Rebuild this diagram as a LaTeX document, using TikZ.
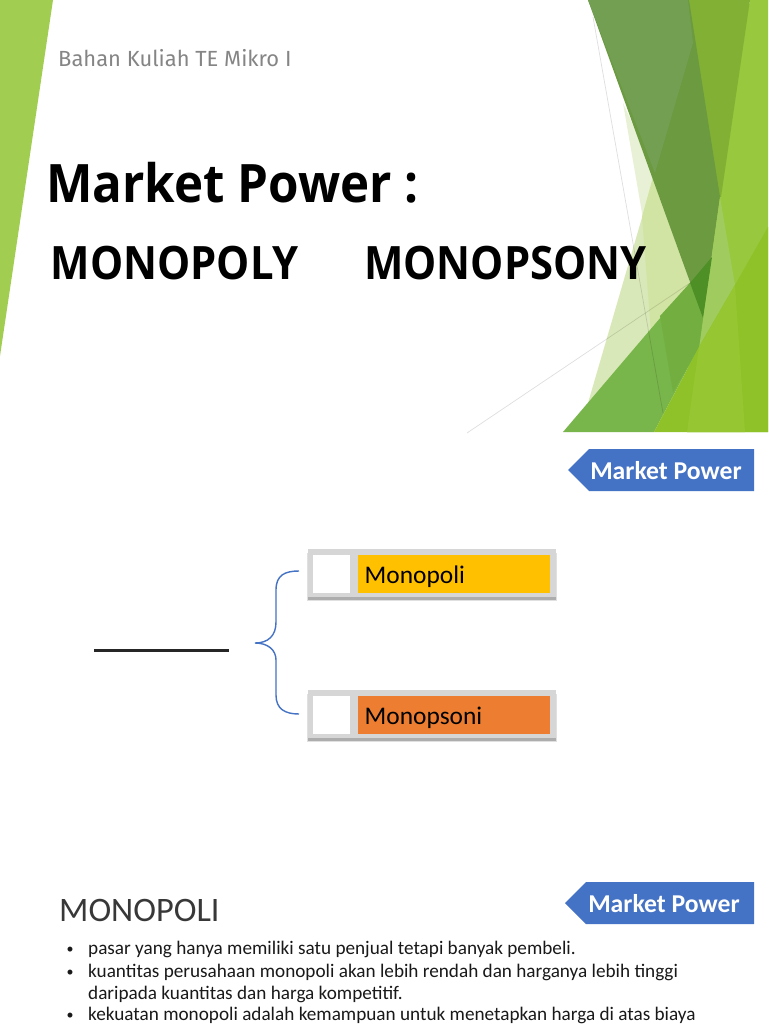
\documentclass[tikz,border=0pt]{standalone}
\usepackage{fontspec}
\setmainfont{Carlito}
\newfontfamily\titlefont[FakeStretch=0.93]{Open Sans}
\newfontfamily\headfont[FakeStretch=0.908]{Open Sans}
\newfontfamily\subfont{Fira Sans}
\definecolor{gA}{HTML}{97C83D}
\definecolor{gB}{HTML}{82B034}
\definecolor{gC}{HTML}{6B9A40}
\definecolor{gD}{HTML}{729F52}
\definecolor{gE}{HTML}{78B54A}
\definecolor{gE2}{HTML}{72AF40}
\definecolor{gF}{HTML}{8FC228}
\definecolor{gF2}{HTML}{96C632}
\definecolor{gG}{HTML}{4E8F26}
\definecolor{gH}{HTML}{A0CC5F}
\definecolor{pA}{HTML}{E8F1D5}
\definecolor{pB}{HTML}{D2E4A3}
\definecolor{pC}{HTML}{D9E8B8}
\definecolor{bluetag}{HTML}{4472C4}
\definecolor{gold}{HTML}{FFC000}
\definecolor{orng}{HTML}{ED7D31}
\tikzset{
 title/.style={font=\titlefont\bfseries\fontsize{53}{56}\selectfont,anchor=base west,inner sep=0pt},
 heading/.style={font=\headfont\bfseries\fontsize{46}{50}\selectfont,anchor=base west,inner sep=0pt},
 tag/.style={fill=bluetag,draw=none},
 tagtext/.style={font=\bfseries\fontsize{25.7}{28}\selectfont,text=white,inner sep=0pt},
 barbox/.style={fill=black!16,draw=none},
 barshadow/.style={fill=black!32,draw=none},
 barblur/.style={fill=black!12,draw=none},
 itemtext/.style={font=\fontsize{25.4}{28}\selectfont,anchor=base west,inner sep=0pt},
 bodytext/.style={font=\fontsize{19.2}{23}\selectfont,text=black!90,anchor=base west,inner sep=0pt},
 bullettext/.style={font=\fontsize{14}{16}\selectfont,text=black!90,anchor=base,inner sep=0pt},
 thingray/.style={draw=black,opacity=0.13,line width=0.7pt},
}
\begin{document}
\begin{tikzpicture}[x=1pt,y=-1pt]
\useasboundingbox (0,0) rectangle (768,1024);
\fill[white] (0,0) rectangle (768,1024);
% left wedge
\fill[gA!90!white] (0,0) -- (53,0) -- (0,356) -- cycle;
% right decoration: every layer runs on under the next one, so no seams show
\fill[pA] (623,103) -- (673,392) -- (680,300) -- (655,173) -- cycle;
\fill[pC] (655,173) -- (588,403) -- (600,412) -- (680,320) -- (690,283) -- cycle;
\fill[pB] (653,177) -- (690,283) -- (680,320) -- (652,345) -- (642,217) -- cycle;
\fill[gA] (750,0) -- (768,0) -- (768,432) -- (687,432) -- (690,300) -- (712,197) -- cycle;
\fill[gB] (689,0) -- (750,0) -- (721,197) -- (705,197) -- (680,60) -- cycle;
\fill[gC] (588,0) -- (689,0) -- (720,197) -- (703,318) -- cycle;
\fill[gD] (588,0) -- (688,0) -- (693,43) -- (655,173) -- cycle;
\fill[gH] (720,197) -- (735,285) -- (699,347) -- (695,347) -- (703,318) -- cycle;
\fill[gE] (563,432) -- (690,283) -- (703,318) -- (699,347) -- (654,432) -- cycle;
\fill[gE2] (660,316) -- (690,283) -- (703,318) -- (699,347) -- (673,392) -- cycle;
\fill[gG] (690,283) -- (712,257) -- (703,318) -- cycle;
\fill[gF] (654,432) -- (699,347) -- (735,285) -- (768,227) -- (768,432) -- cycle;
\fill[gF2] (687,432) -- (699,347) -- (735,285) -- (745,432) -- cycle;
\coordinate (ga) at (593,17);
\coordinate (gb) at (663,413);
\coordinate (gc) at (467,433);
\coordinate (gd) at (690,283);
\draw[thingray] (ga) -- (gb);
\draw[thingray] (gc) -- (gd);
% texts
\node[font=\subfont\fontsize{21.9}{24}\selectfont,text=black!48,anchor=base west,inner sep=0pt] (sub) at (58,67) {Bahan Kuliah TE Mikro I};
\node[title] (t1) at (46,203) {Market Power :};
\node[heading] (t2) at (50.5,279) {MONOPOLY};
\node[heading] (t3) at (364,279) {MONOPSONY};
% tag 1
\path[tag] (568,470) -- (589,449) -- (754,449) -- (754,491) -- (589,491) -- cycle;
\node[tagtext] (tag1) at (666,471) {Market Power};
% rule and brace
\coordinate (r1) at (94,650.5);
\coordinate (r2) at (229,650.5);
\draw[line width=2.2pt,black!85] (r1) -- (r2);
\coordinate (bm) at (255,643);
\coordinate (bt) at (299,571);
\coordinate (bb) at (299,714);
\draw[bluetag,line width=1.4pt] (bt) .. controls (285,571) and (276,575) .. (276,590) -- (276,622) .. controls (276,636) and (268,643) .. (bm) .. controls (268,643) and (276,650) .. (276,660) -- (276,695) .. controls (276,709) and (285,714) .. (bb);
% boxes
\fill[barblur] (307,553) rectangle (557,601);
\fill[barshadow] (308,553) rectangle (556,600);
\fill[barbox] (308,549) rectangle (556,597);
\fill[white] (313,555) rectangle (350,593);
\node[fill=gold,minimum width=192pt,minimum height=38pt,inner sep=0pt,anchor=north west] (b1) at (358,555) {};
\node[itemtext] (mono) at (364.5,583) {Monopoli};
\fill[barblur] (307,694) rectangle (557,742);
\fill[barshadow] (308,694) rectangle (556,741);
\fill[barbox] (308,690) rectangle (556,738);
\fill[white] (313,696) rectangle (350,734);
\node[fill=orng,minimum width=192pt,minimum height=38pt,inner sep=0pt,anchor=north west] (b2) at (358,696) {};
\node[itemtext] (monp) at (364.5,724) {Monopsoni};
% bottom slide
\path[tag] (565,903) -- (586,882) -- (754,882) -- (754,924) -- (586,924) -- cycle;
\node[tagtext] (tag2) at (664,904) {Market Power};
\node[font=\fontsize{34.3}{38}\selectfont,text=black!78,anchor=base west,inner sep=0pt] (mh) at (59,921) {MONOPOLI};
\node[bullettext] (d1) at (70,953) {•};
\node[bodytext] (l1) at (88,954) {pasar yang hanya memiliki satu penjual tetapi banyak pembeli.};
\node[bullettext] (d2) at (70,976) {•};
\node[bodytext] (l2) at (88,977) {kuantitas perusahaan monopoli akan lebih rendah dan harganya lebih tinggi};
\node[bodytext] (l3) at (88,999) {daripada kuantitas dan harga kompetitif.};
\node[bullettext] (d3) at (70,1019) {•};
\node[bodytext] (l4) at (88,1020) {kekuatan monopoli adalah kemampuan untuk menetapkan harga di atas biaya};
\end{tikzpicture}
\end{document}
